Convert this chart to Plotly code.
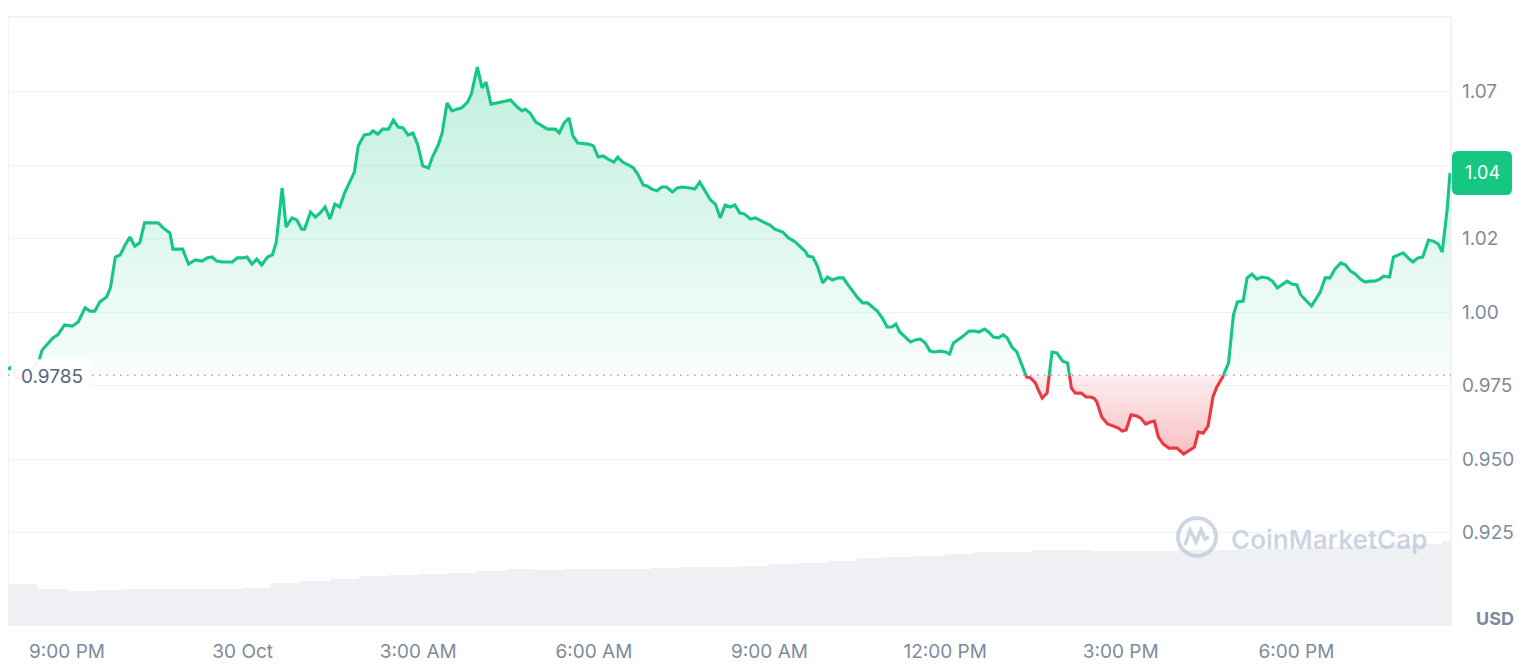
import pandas as pd
import plotly.graph_objects as go

# ---------------- data ----------------
START = "2023-10-29 19:59:30"
OPEN_PRICE = 0.9785

# minutes after START, and price (USD) at those moments
minutes = [
    0, 4, 9, 17, 26, 32, 35, 40, 46, 51,
    58, 66, 72, 79, 84, 89, 94, 101, 105, 110,
    115, 120, 125, 130, 135, 140, 154, 159, 166, 169,
    179, 185, 192, 199, 204, 209, 214, 220, 230, 235,
    240, 245, 250, 255, 260, 266, 271, 275, 281, 285,
    291, 296, 301, 304, 310, 315, 320, 325, 330, 335,
    340, 345, 351, 355, 359, 365, 371, 374, 379, 384,
    390, 395, 400, 405, 410, 415, 420, 425, 431, 435,
    441, 445, 450, 455, 460, 465, 471, 475, 481, 486,
    490, 495, 501, 506, 515, 522, 527, 530, 535, 541,
    547, 553, 561, 565, 570, 575, 579, 584, 595, 600,
    605, 610, 615, 621, 625, 630, 636, 641, 646, 651,
    655, 660, 665, 670, 675, 681, 686, 691, 699, 704,
    709, 715, 720, 725, 730, 735, 740, 745, 750, 755,
    761, 766, 771, 776, 781, 786, 794, 800, 807, 812,
    817, 820, 825, 830, 835, 840, 845, 851, 856, 861,
    866, 871, 876, 881, 886, 891, 896, 901, 906, 910,
    914, 920, 925, 930, 935, 940, 945, 950, 955, 961,
    965, 969, 974, 979, 985, 991, 995, 1001, 1005, 1010,
    1015, 1020, 1024, 1029, 1034, 1038, 1044, 1048, 1053, 1056,
    1060, 1065, 1070, 1075, 1081, 1086, 1090, 1094, 1100, 1105,
    1109, 1113, 1116, 1121, 1127, 1133, 1138, 1142, 1146, 1151,
    1157, 1161, 1166, 1171, 1175, 1179, 1184, 1190, 1198, 1205,
    1212, 1216, 1220, 1225, 1230, 1235, 1239, 1245, 1251, 1256,
    1260, 1266, 1270, 1275, 1280, 1285, 1291, 1296, 1301, 1306,
    1311, 1316, 1321, 1325, 1331, 1336, 1340, 1345, 1350, 1355,
    1360, 1366, 1371, 1376, 1381, 1386, 1391, 1396, 1401, 1406,
    1410, 1416, 1420, 1425, 1430, 1435, 1440, 1445, 1450, 1456,
    1461, 1466, 1470, 1475, 1478,
]
prices = [
    0.9806, 0.9813, 0.9772, 0.9776, 0.9810, 0.9837, 0.9871, 0.9888, 0.9912, 0.9922,
    0.9956, 0.9952, 0.9966, 1.0014, 1.0003, 1.0003, 1.0034, 1.0051, 1.0082, 1.0187,
    1.0194, 1.0228, 1.0255, 1.0224, 1.0235, 1.0303, 1.0303, 1.0286, 1.0269, 1.0214,
    1.0214, 1.0163, 1.0177, 1.0173, 1.0184, 1.0187, 1.0173, 1.0170, 1.0170, 1.0184,
    1.0184, 1.0187, 1.0163, 1.0180, 1.0160, 1.0187, 1.0194, 1.0238, 1.0422, 1.0289,
    1.0320, 1.0313, 1.0282, 1.0282, 1.0340, 1.0323, 1.0337, 1.0357, 1.0316, 1.0367,
    1.0357, 1.0405, 1.0449, 1.0476, 1.0565, 1.0602, 1.0605, 1.0616, 1.0605, 1.0622,
    1.0622, 1.0653, 1.0629, 1.0626, 1.0602, 1.0609, 1.0568, 1.0497, 1.0490, 1.0527,
    1.0568, 1.0609, 1.0711, 1.0684, 1.0690, 1.0694, 1.0714, 1.0742, 1.0833, 1.0762,
    1.0782, 1.0707, 1.0711, 1.0714, 1.0721, 1.0697, 1.0684, 1.0690, 1.0677, 1.0646,
    1.0633, 1.0622, 1.0622, 1.0609, 1.0643, 1.0660, 1.0599, 1.0575, 1.0571, 1.0565,
    1.0527, 1.0531, 1.0520, 1.0510, 1.0527, 1.0510, 1.0500, 1.0490, 1.0466, 1.0432,
    1.0429, 1.0418, 1.0412, 1.0425, 1.0425, 1.0408, 1.0422, 1.0425, 1.0422, 1.0418,
    1.0442, 1.0408, 1.0381, 1.0367, 1.0320, 1.0364, 1.0357, 1.0364, 1.0337, 1.0333,
    1.0316, 1.0320, 1.0310, 1.0303, 1.0296, 1.0282, 1.0272, 1.0252, 1.0238, 1.0224,
    1.0207, 1.0190, 1.0187, 1.0153, 1.0099, 1.0119, 1.0109, 1.0116, 1.0116, 1.0092,
    1.0068, 1.0048, 1.0031, 1.0031, 1.0017, 1.0003, 0.9980, 0.9949, 0.9949, 0.9959,
    0.9932, 0.9912, 0.9898, 0.9905, 0.9908, 0.9895, 0.9867, 0.9864, 0.9867, 0.9864,
    0.9857, 0.9895, 0.9905, 0.9918, 0.9935, 0.9935, 0.9932, 0.9942, 0.9932, 0.9915,
    0.9912, 0.9922, 0.9912, 0.9881, 0.9864, 0.9827, 0.9779, 0.9776, 0.9759, 0.9735,
    0.9707, 0.9724, 0.9864, 0.9861, 0.9833, 0.9827, 0.9741, 0.9724, 0.9724, 0.9711,
    0.9711, 0.9707, 0.9694, 0.9643, 0.9619, 0.9612, 0.9605, 0.9595, 0.9599, 0.9650,
    0.9646, 0.9639, 0.9619, 0.9626, 0.9629, 0.9575, 0.9551, 0.9537, 0.9537, 0.9517,
    0.9531, 0.9541, 0.9592, 0.9588, 0.9612, 0.9711, 0.9745, 0.9779, 0.9827, 0.9990,
    1.0034, 1.0037, 1.0116, 1.0129, 1.0112, 1.0119, 1.0116, 1.0105, 1.0082, 1.0092,
    1.0105, 1.0095, 1.0092, 1.0058, 1.0037, 1.0020, 1.0041, 1.0068, 1.0116, 1.0116,
    1.0146, 1.0167, 1.0160, 1.0139, 1.0129, 1.0112, 1.0102, 1.0105, 1.0105, 1.0112,
    1.0122, 1.0119, 1.0187, 1.0194, 1.0201, 1.0184, 1.0170, 1.0184, 1.0187, 1.0245,
    1.0241, 1.0231, 1.0204, 1.0347, 1.0473,
]

# 24h volume (M USD), one bar per 30-minute slot
vol_slot_minutes = [
    0, 30, 60, 90, 120, 150, 180, 210, 240, 270,
    300, 330, 360, 390, 420, 450, 480, 510, 540, 570,
    600, 630, 660, 690, 720, 750, 780, 810, 840, 870,
    900, 930, 960, 990, 1020, 1050, 1080, 1110, 1140, 1170,
    1200, 1230, 1260, 1290, 1320, 1350, 1380, 1410, 1440, 1470,
]
volumes = [
    12.3, 10.8, 10.2, 10.5, 10.8, 10.8, 10.8, 10.8, 11.1, 12.6,
    13.2, 13.8, 14.7, 15.0, 15.3, 15.6, 16.2, 16.8, 16.5, 16.8,
    16.8, 16.8, 17.1, 17.4, 17.4, 17.7, 18.3, 18.6, 19.2, 20.1,
    20.4, 20.7, 21.3, 21.9, 21.9, 22.5, 22.5, 22.2, 22.2, 22.2,
    22.5, 22.5, 22.8, 22.8, 23.1, 23.4, 23.7, 24.0, 24.3, 25.2,
]

x_tick_times = [
    "2023-10-29 21:00", "2023-10-30 00:00", "2023-10-30 03:00", "2023-10-30 06:00",
    "2023-10-30 09:00", "2023-10-30 12:00", "2023-10-30 15:00", "2023-10-30 18:00",
]
x_tick_labels = ["9:00 PM", "30 Oct", "3:00 AM", "6:00 AM", "9:00 AM", "12:00 PM", "3:00 PM", "6:00 PM"]

y_tick_vals = [0.925, 0.950, 0.975, 1.000, 1.025, 1.050, 1.075]
y_tick_labels = ["0.925", "0.950", "0.975", "1.00", "1.02", "", "1.07"]

# ---------------- styling ----------------
GREEN = "#16c784"
RED = "#ea3943"
GRID = "#eff2f5"
TICK = "#808a9d"
WM = "rgba(180,192,213,0.66)"
FONT = "Inter"

Y_MIN, Y_MAX = 0.89354, 1.10034
X_SPAN_MIN = 1479
VOL_MAX = 182.4

t0 = pd.Timestamp(START)
times = t0 + pd.to_timedelta(minutes, unit="m")
vol_x = t0 + pd.to_timedelta([m + 15 for m in vol_slot_minutes], unit="m")
x_end = t0 + pd.Timedelta(minutes=X_SPAN_MIN)

split = (OPEN_PRICE - Y_MIN) / (Y_MAX - Y_MIN)

fig = go.Figure()

# volume bars
fig.add_trace(go.Bar(
    x=vol_x, y=volumes, width=30 * 60 * 1000,
    marker=dict(color="#eff0f4", line=dict(width=0)),
    yaxis="y4", hoverinfo="skip", showlegend=False,
))

# green part (above open) - clipped by y2 domain
fig.add_trace(go.Scatter(
    x=times, y=prices, mode="lines",
    line=dict(color=GREEN, width=3.1),
    fill="tozeroy",
    fillgradient=dict(type="vertical",
                      colorscale=[[0, "rgba(22,199,132,0.03)"], [1, "rgba(22,199,132,0.27)"]],
                      start=OPEN_PRICE, stop=max(prices)),
    yaxis="y2", hoverinfo="skip", showlegend=False,
))

# red part (below open) - clipped by y3 domain
fig.add_trace(go.Scatter(
    x=times, y=[OPEN_PRICE] * len(times), mode="lines",
    line=dict(width=0), yaxis="y3", hoverinfo="skip", showlegend=False,
))
fig.add_trace(go.Scatter(
    x=times, y=prices, mode="lines",
    line=dict(color=RED, width=3.1),
    fill="tonexty",
    fillgradient=dict(type="vertical",
                      colorscale=[[0, "rgba(234,57,67,0.32)"], [1, "rgba(234,57,67,0.08)"]],
                      start=min(prices), stop=OPEN_PRICE),
    yaxis="y3", hoverinfo="skip", showlegend=False,
))

# anchor trace for main price axis (invisible)
fig.add_trace(go.Scatter(
    x=[t0, x_end], y=[OPEN_PRICE, OPEN_PRICE], mode="lines",
    line=dict(width=0), yaxis="y", hoverinfo="skip", showlegend=False,
))

last_price = prices[-1]
badge_text = f"{int(last_price * 100) / 100:.2f}"

shapes = [
    # frame
    dict(type="rect", xref="paper", yref="paper", x0=0, x1=1, y0=0, y1=1,
         line=dict(color="#eceff3", width=1.5), layer="below"),
    # open-price dotted line
    dict(type="line", xref="paper", yref="y", x0=0, x1=1, y0=OPEN_PRICE, y1=OPEN_PRICE,
         line=dict(color="#a3aabb", width=1.6, dash="1.6px,5.4px"), layer="above"),
    # last price badge
    dict(type="path", xref="paper", yref="y", xsizemode="pixel", ysizemode="pixel",
         xanchor=1, yanchor=last_price,
         path="M 7,22 L 55,22 Q 61,22 61,16 L 61,-16 Q 61,-22 55,-22 L 7,-22 Q 1,-22 1,-16 L 1,16 Q 1,22 7,22 Z",
         fillcolor=GREEN, line=dict(width=0), layer="above"),
    # open price label box (rounded)
    dict(type="path", xref="paper", yref="y", xsizemode="pixel", ysizemode="pixel",
         xanchor=0, yanchor=OPEN_PRICE,
         path="M 10,16 L 76,16 Q 84,16 84,8 L 84,-8 Q 84,-16 76,-16 L 10,-16 Q 3,-16 3,-8 L 3,8 Q 3,16 10,16 Z",
         fillcolor="rgba(255,255,255,0.93)", line=dict(width=0), layer="above"),
    # watermark logo
    dict(type="circle", xref="paper", yref="paper", xsizemode="pixel", ysizemode="pixel",
         xanchor=0.8240, yanchor=0.1447, x0=-19, x1=19, y0=-19, y1=19,
         line=dict(color=WM, width=4), layer="above"),
    dict(type="path", xref="paper", yref="paper", xsizemode="pixel", ysizemode="pixel",
         xanchor=0.8240, yanchor=0.1447,
         path="M -12,-8 L -7,7 L -1,-5 L 4,7 L 8,-2 L 12,0",
         line=dict(color=WM, width=3.5), layer="above"),
]

annotations = [
    dict(text=f"{OPEN_PRICE:.4f}", xref="paper", yref="y", x=0, y=OPEN_PRICE,
         xanchor="left", yanchor="middle", xshift=11, yshift=-1, showarrow=False,
         font=dict(family=FONT, size=19, color="#58667e")),
    dict(text=badge_text, xref="paper", yref="y", x=1, y=last_price,
         xanchor="center", yanchor="middle", xshift=31, showarrow=False,
         font=dict(family=FONT, size=18, color="white")),
    dict(text="<b>USD</b>", xref="paper", yref="paper", x=1, y=0,
         xanchor="left", yanchor="middle", xshift=23, yshift=7, showarrow=False,
         font=dict(family=FONT, size=18, color=TICK)),
    dict(text="CoinMarketCap", xref="paper", yref="paper", x=0.9155, y=0.1414,
         xanchor="center", yanchor="middle", showarrow=False,
         font=dict(family=FONT, size=26, color=WM, weight=600)),
]

fig.update_layout(
    width=1536, height=668,
    margin=dict(l=0, r=93, t=9, b=51),
    paper_bgcolor="white",
    plot_bgcolor="rgba(0,0,0,0)",
    showlegend=False,
    hovermode=False,
    bargap=0,
    font=dict(family=FONT, color=TICK),
    xaxis=dict(type="date", range=[t0, x_end], tickvals=pd.to_datetime(x_tick_times),
               ticktext=x_tick_labels, showgrid=False, zeroline=False, showline=False,
               ticks="", tickfont=dict(family=FONT, size=19, color=TICK),
               ticklabelstandoff=13, anchor="y"),
    yaxis=dict(range=[Y_MIN, Y_MAX], domain=[0, 1], side="right",
               tickvals=y_tick_vals, ticktext=y_tick_labels,
               showgrid=True, gridcolor=GRID, gridwidth=1.2, zeroline=False,
               showline=False, ticks="", tickfont=dict(family=FONT, size=19, color=TICK),
               ticklabelstandoff=10, anchor="x"),
    yaxis2=dict(range=[OPEN_PRICE, Y_MAX], domain=[split, 1], visible=False, anchor="x"),
    yaxis3=dict(range=[Y_MIN, OPEN_PRICE], domain=[0, split], visible=False, anchor="x"),
    yaxis4=dict(range=[0, VOL_MAX], overlaying="y", visible=False, anchor="x"),
    shapes=shapes,
    annotations=annotations,
)

fig.write_html("out.html")
